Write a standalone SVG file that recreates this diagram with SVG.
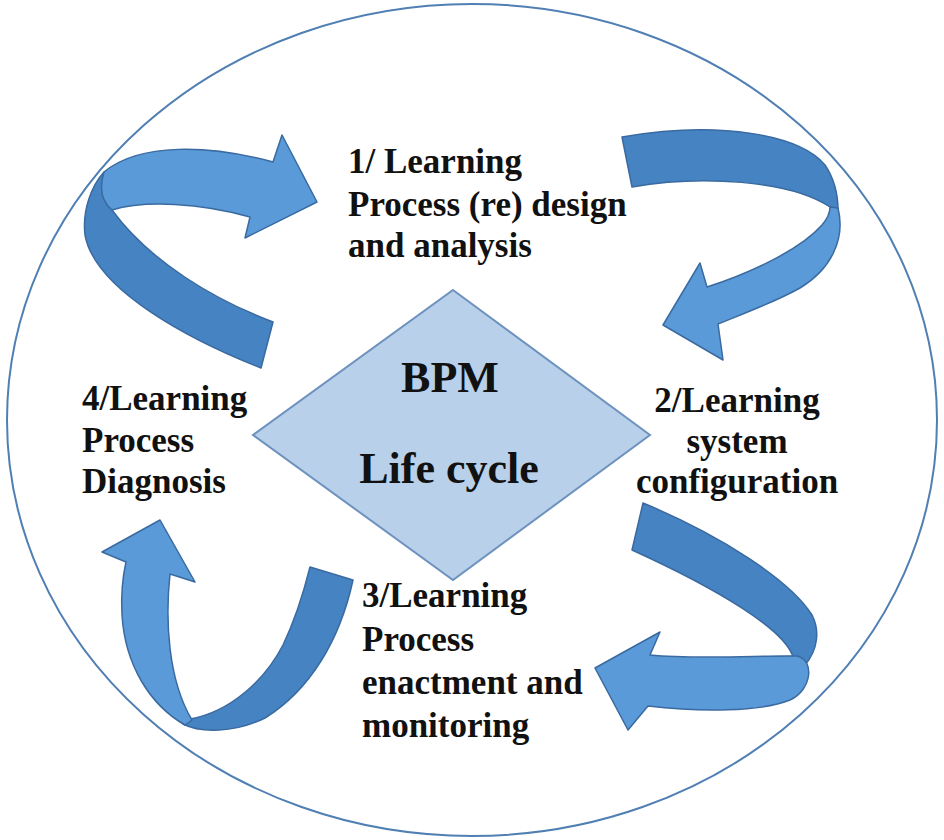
<svg xmlns="http://www.w3.org/2000/svg" width="944" height="840" viewBox="0 0 944 840">
<style>
.lbl{font-family:"Liberation Serif","Times New Roman",serif;font-weight:bold;font-size:35px;fill:#111}
.big{font-family:"Liberation Serif","Times New Roman",serif;font-weight:bold;font-size:44px;fill:#111;text-anchor:middle}
.dark{fill:#4583c2;stroke:#3a6aa0;stroke-width:1.5;stroke-linejoin:round}
.light{fill:#5a9ad8;stroke:#3a6aa0;stroke-width:1.5;stroke-linejoin:round}
</style>
<rect width="944" height="840" fill="#ffffff"/>
<ellipse id="frame" cx="472" cy="420" rx="465" ry="416" fill="#ffffff" stroke="#4f7fb3" stroke-width="2"/>
<g id="connectors">
  <g id="arrow1">
    <path class="dark" d="M 261,368 C 190,340 95,290 85,235 C 82,210 92,185 104,172 L 112,210 C 150,262 215,300 273,322 Z"/>
    <path class="light" d="M 104,172 C 140,142 210,145 273,162 L 282,135 L 317,202 L 245,238 L 250,217 C 200,203 145,200 112,210 C 100,200 100,185 104,172 Z"/>
  </g>
  <g id="arrow2">
    <path class="dark" d="M 622,137 C 720,120 800,135 825,165 C 835,180 838,195 838,210 L 830,207 C 790,180 700,175 632,187 Z"/>
    <path class="light" d="M 838,208 C 846,240 830,270 800,288 C 775,302 745,313 718,324 L 723,360 L 663,325 L 700,263 L 707,287 C 750,273 800,250 822,225 C 828,218 830,212 830,207 Z"/>
  </g>
  <g id="arrow3">
    <path class="dark" d="M 643,503 C 720,535 790,580 812,615 C 820,630 818,650 805,665 L 793,657 C 785,630 720,590 632,550 Z"/>
    <path class="light" d="M 650,655 C 700,660 765,655 797,656 C 815,660 812,690 790,700 C 760,712 700,712 648,706 L 628,730 L 595,668 L 660,632 Z"/>
  </g>
  <g id="arrow4">
    <path class="dark" d="M 310,567 L 353,580 C 340,640 310,690 265,718 C 235,733 200,733 183,724 L 190,719 C 230,712 265,680 283,645 C 295,620 303,595 310,567 Z"/>
    <path class="light" d="M 185,725 C 150,705 125,665 122,615 C 121,595 123,575 126,562 L 102,552 L 160,520 L 195,582 L 170,574 C 165,620 168,680 192,720 Z"/>
  </g>
</g>
<g id="center">
  <polygon points="453,290 650,435 453,580 253,435" fill="#b8d0ea" stroke="#6d92bd" stroke-width="2"/>
  <text class="big" x="450" y="392">BPM</text>
  <text class="big" x="449" y="483">Life cycle</text>
</g>
<g id="step1">
  <text class="lbl" x="348" y="173">1/ Learning</text>
  <text class="lbl" x="348" y="216">Process (re) design</text>
  <text class="lbl" x="348" y="257">and analysis</text>
</g>
<g id="step2">
  <text class="lbl" x="737" y="412" text-anchor="middle">2/Learning</text>
  <text class="lbl" x="737" y="453" text-anchor="middle">system</text>
  <text class="lbl" x="737" y="493" text-anchor="middle">configuration</text>
</g>
<g id="step3">
  <text class="lbl" x="362" y="607">3/Learning</text>
  <text class="lbl" x="362" y="651">Process</text>
  <text class="lbl" x="362" y="694">enactment and</text>
  <text class="lbl" x="362" y="737">monitoring</text>
</g>
<g id="step4">
  <text class="lbl" x="82" y="410">4/Learning</text>
  <text class="lbl" x="82" y="452">Process</text>
  <text class="lbl" x="82" y="493">Diagnosis</text>
</g>
</svg>
